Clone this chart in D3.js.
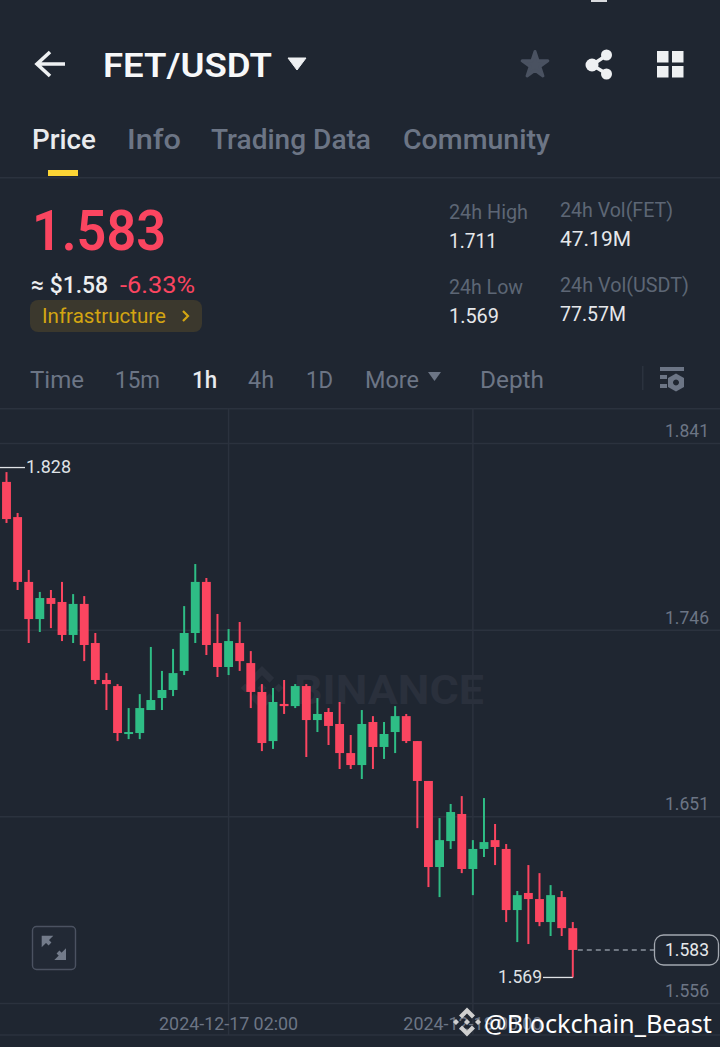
<!DOCTYPE html>
<html><head><meta charset="utf-8">
<script src="https://cdn.jsdelivr.net/npm/d3@7/dist/d3.min.js"></script>
<style>html,body{margin:0;padding:0;background:#1f2631;overflow:hidden}svg{display:block}text{font-family:Roboto,"Noto Sans",sans-serif}</style>
</head><body><svg id="c" width="720" height="1047"></svg>
<script>
const pair = "FET/USDT";
const firstCandle = "2024-12-16T06:00:00Z";
const opens = [1.8212,1.8033,1.7703,1.7514,1.7621,1.7601,1.7433,1.7591,1.7392,1.7204,1.7173,1.6929,1.6934,1.7051,1.7112,1.7153,1.7250,1.7443,1.7703,1.7392,1.7270,1.7392,1.7290,1.7143,1.6893,1.7082,1.7071,1.7173,1.7000,1.7041,1.6980,1.6832,1.6771,1.6990,1.6863,1.6939,1.7020,1.6893,1.6690,1.6252,1.6384,1.6522,1.6242,1.6344,1.6389,1.6344,1.6033,1.6120,1.6089,1.5972,1.6099,1.5941];
const highs = [1.8262,1.8054,1.7764,1.7652,1.7662,1.7703,1.7641,1.7631,1.7443,1.7239,1.7183,1.7061,1.7132,1.7372,1.7250,1.7362,1.7580,1.7794,1.7723,1.7540,1.7463,1.7499,1.7351,1.7183,1.7163,1.7204,1.7183,1.7183,1.7112,1.7061,1.7092,1.6924,1.7051,1.7020,1.6990,1.7071,1.7031,1.6893,1.6690,1.6501,1.6573,1.6613,1.6389,1.6603,1.6471,1.6369,1.6130,1.6262,1.6221,1.6160,1.6130,1.5972];
const lows = [1.8003,1.7662,1.7392,1.7448,1.7468,1.7402,1.7392,1.7300,1.7183,1.7051,1.6893,1.6903,1.6903,1.7051,1.7051,1.7122,1.7229,1.7392,1.7331,1.7219,1.7229,1.7250,1.7061,1.6842,1.6853,1.7031,1.7061,1.6812,1.6939,1.6873,1.6751,1.6751,1.6700,1.6751,1.6802,1.6832,1.6883,1.6450,1.6150,1.6099,1.6344,1.6221,1.6109,1.6303,1.6262,1.5972,1.5870,1.5860,1.5951,1.5901,1.5901,1.569];
const closes = [1.8023,1.7703,1.7514,1.7621,1.7591,1.7433,1.7591,1.7382,1.7204,1.7183,1.6934,1.6939,1.7061,1.7102,1.7153,1.7239,1.7443,1.7703,1.7382,1.7270,1.7402,1.7300,1.7143,1.6883,1.7092,1.7071,1.7173,1.7000,1.7031,1.6970,1.6832,1.6771,1.6980,1.6863,1.6929,1.7020,1.6893,1.6690,1.6252,1.6389,1.6532,1.6242,1.6344,1.6379,1.6354,1.6033,1.6109,1.6089,1.5972,1.6109,1.5941,1.583];
const priceTicks = [1.841,1.746,1.651,1.556];
const timeTicks = ["2024-12-17T02:00:00Z","2024-12-18T00:00:00Z"];
const lastPrice = 1.583, maxMark = 1.828, minMark = 1.569;

const BG="#1f2631", RED="#fb4560", GREEN="#2ebd85", GRID="#2b323e", GRAY="#6c7585", DIM="#5d6675", WHITE="#eef0f2";
const svg=d3.select("#c");
svg.append("rect").attr("width",720).attr("height",1047).attr("fill",BG);

function T(x,y,s,size,fill,weight,w,anchor){
  const t=svg.append("text").attr("x",x).attr("y",y).text(s).attr("font-size",size).attr("fill",fill).attr("font-weight",weight||400);
  if(w){t.attr("textLength",w).attr("lengthAdjust","spacingAndGlyphs");}
  if(anchor)t.attr("text-anchor",anchor);
  return t;
}
function logo(cx,cy,r,fill,edge){
  const g=svg.append("g").attr("transform",`translate(${cx},${cy}) scale(${r})`).attr("fill",fill);
  if(edge)g.attr("stroke",edge).attr("stroke-width",1/r);
  g.append("path").attr("d","M0,-1L.55,-.45L.34,-.24L0,-.58L-.34,-.24L-.55,-.45Z");
  g.append("path").attr("d","M0,1L.55,.45L.34,.24L0,.58L-.34,.24L-.55,.45Z");
  [[-.76,0],[.76,0],[0,0]].forEach(c=>g.append("path").attr("d",`M${c[0]-.21},${c[1]}L${c[0]},${c[1]-.21}L${c[0]+.21},${c[1]}L${c[0]},${c[1]+.21}Z`));
}
// header
svg.append("rect").attr("x",591).attr("y",0).attr("width",16).attr("height",2).attr("fill","#d8dadd");
svg.append("path").attr("d","M65 64H38M50 52L37 64L50 76").attr("fill","none").attr("stroke",WHITE).attr("stroke-width",3.6);
T(103,77,pair,34,"#f7f8f9",600,169);
svg.append("path").attr("d","M288 58H306L297 70Z").attr("fill",WHITE).attr("stroke",WHITE).attr("stroke-linejoin","round");
svg.append("path").attr("d",d3.symbol(d3.symbolStar,205)()).attr("transform","translate(535,65)").attr("fill","#4a5261").attr("stroke","#4a5261").attr("stroke-width",3).attr("stroke-linejoin","round");
svg.append("path").attr("d","M607 55L592 65L607 74").attr("fill","none").attr("stroke",WHITE).attr("stroke-width",3.5);
[[606.5,55,5.5],[592,65,6.5],[606.5,74,5.5]].forEach(c=>svg.append("circle").attr("cx",c[0]).attr("cy",c[1]).attr("r",c[2]).attr("fill",WHITE));
[[657,51],[672,51],[657,66],[672,66]].forEach(p=>svg.append("rect").attr("x",p[0]).attr("y",p[1]).attr("width",11.5).attr("height",11.5).attr("fill",WHITE));
// tabs
T(32,149,"Price",27,"#e9ebee",500,64);
T(127,149,"Info",27,GRAY,500,54);
T(211,149,"Trading Data",27,GRAY,500,160);
T(403,149,"Community",27,GRAY,500,147);
svg.append("rect").attr("x",48).attr("y",170).attr("width",30).attr("height",6).attr("fill","#fcd535");
svg.append("rect").attr("x",0).attr("y",177).attr("width",720).attr("height",1.5).attr("fill",GRID);
// price block
T(32,250,"1.583",56,RED,600,134);
T(31,293,"≈ $1.58",24,"#eceef0",500,77);
T(120,293,"-6.33%",23,RED,400,75);
svg.append("rect").attr("x",30).attr("y",300).attr("width",172).attr("height",32).attr("rx",8).attr("fill","#3b382d");
T(42,323,"Infrastructure",21,"#d3a512",400,124);
svg.append("path").attr("d","M183 311L188 316L183 321").attr("fill","none").attr("stroke","#d3a512").attr("stroke-width",2.2);
T(449,219,"24h High",20,DIM,400,79);
T(449,248,"1.711",20,"#e6e8eb",400,48);
T(560,217,"24h Vol(FET)",20,DIM,400,113);
T(560,246,"47.19M",20,"#e6e8eb",400,71);
T(449,294,"24h Low",20,DIM,400,74);
T(449,323,"1.569",20,"#e6e8eb",400,50);
T(560,292,"24h Vol(USDT)",20,DIM,400,129);
T(560,321,"77.57M",20,"#e6e8eb",400,66);
// interval row
[["Time",30,54],["15m",115,45],["4h",248,26],["1D",306,27],["More",365,54],["Depth",480,64]].forEach(d=>T(d[1],388,d[0],24,GRAY,400,d[2]));
T(192,388,"1h",24,"#e9ebee",500,25);
svg.append("path").attr("d","M428 372H441L434.5 381Z").attr("fill",GRAY);
svg.append("rect").attr("x",642).attr("y",366).attr("width",1.5).attr("height",24).attr("fill",GRID);
svg.append("g").attr("fill",GRAY).call(g=>{
  g.append("rect").attr("x",660).attr("y",367).attr("width",24).attr("height",4);
  g.append("rect").attr("x",660).attr("y",375).attr("width",7).attr("height",4);
  g.append("rect").attr("x",660).attr("y",384).attr("width",7).attr("height",4);
  g.append("path").attr("fill-rule","evenodd").attr("d","M676 373.5L684 378V387L676 391.5L668 387V378ZM676 379.5a3 3 0 1 0 .01 0Z");
});
// chart frame
svg.append("rect").attr("x",0).attr("y",408).attr("width",720).attr("height",1.5).attr("fill",GRID);

const y=d3.scaleLinear().domain([1.841,1.556]).range([443,1003]);
const t0=new Date(firstCandle);
const times=opens.map((_,i)=>d3.utcHour.offset(t0,i));
const x=d3.scaleUtc().domain([times[0],times[times.length-1]]).range([6.5,572.8]);
const step=x(times[1])-x(times[0]);
const bodyW=step*0.8;

// y axis + grid
const ya=svg.append("g").attr("class","y").call(d3.axisRight(y).tickValues(priceTicks).tickSize(720).tickFormat(d3.format(".3f")));
ya.select(".domain").remove();
ya.selectAll("line").attr("stroke",GRID).attr("stroke-width",1.5);
ya.selectAll("text").attr("x",665).attr("dy",0).attr("y",-6.5).attr("font-size",18).attr("fill",GRAY).attr("textLength",44).attr("lengthAdjust","spacingAndGlyphs");
// x axis + grid
const xa=svg.append("g").attr("transform","translate(-0.5,1035)").call(d3.axisBottom(x).tickValues(timeTicks.map(d=>new Date(d))).tickSize(-627).tickFormat(d3.utcFormat("%Y-%m-%d %H:%M")));
xa.select(".domain").attr("stroke",GRID).attr("stroke-width",1.5).attr("d","M0,0H721");
xa.selectAll("line").attr("stroke",GRID).attr("stroke-width",1.5);
xa.selectAll("text").attr("y",-5).attr("dy",0).attr("font-size",17.5).attr("fill",GRAY).attr("text-anchor","middle").attr("textLength",139).attr("lengthAdjust","spacingAndGlyphs");

// chart watermark
logo(262,688,22,"#2a303c");
T(294,704,"BINANCE",41,"#2a303c",700,190);

// candles
const idx=d3.range(opens.length);
const colour=i=>closes[i]>=opens[i]?GREEN:RED;
const g=svg.append("g");
g.selectAll("line.w").data(idx).join("line").attr("class","w")
  .attr("x1",i=>x(times[i])).attr("x2",i=>x(times[i]))
  .attr("y1",i=>y(highs[i])).attr("y2",i=>y(lows[i]))
  .attr("stroke",colour).attr("stroke-width",2);
g.selectAll("rect.b").data(idx).join("rect").attr("class","b")
  .attr("x",i=>x(times[i])-bodyW/2).attr("width",bodyW)
  .attr("y",i=>y(Math.max(opens[i],closes[i])))
  .attr("height",i=>Math.max(2,Math.abs(y(opens[i])-y(closes[i]))))
  .attr("fill",colour);

// max / min markers
const LBL="#dfe2e6";
svg.append("line").attr("x1",0).attr("x2",25).attr("y1",y(maxMark)-1).attr("y2",y(maxMark)-1).attr("stroke",LBL).attr("stroke-width",1.3);
T(26,y(maxMark)+4.5,d3.format(".3f")(maxMark),18,LBL,400,45);
const last=times[times.length-1];
svg.append("line").attr("x1",543).attr("x2",x(last)).attr("y1",y(minMark)).attr("y2",y(minMark)).attr("stroke",LBL).attr("stroke-width",1.3);
T(498,y(minMark)+6,d3.format(".3f")(minMark),18,LBL,400,44);
// last price
svg.append("line").attr("x1",x(last)+5).attr("x2",654).attr("y1",y(lastPrice)).attr("y2",y(lastPrice)).attr("stroke","#8b929d").attr("stroke-width",1.5).attr("stroke-dasharray","5 4");
svg.append("rect").attr("x",654.5).attr("y",935).attr("width",64).attr("height",30).attr("rx",9).attr("fill",BG).attr("stroke","#a3a8b0").attr("stroke-width",1.3);
T(665,y(lastPrice)+6.5,d3.format(".3f")(lastPrice),18,"#e6e8eb",400,44);

// expand button
svg.append("rect").attr("x",32.5).attr("y",926.5).attr("width",43).attr("height",43).attr("rx",4).attr("fill","#222935").attr("stroke","#4b5261").attr("stroke-width",1.4);
svg.append("path").attr("d","M41.7 935.7H53.3L41.7 947.3ZM66 960H54.3L66 948.3Z").attr("fill","#737b8a");
svg.append("path").attr("d","M46 940L50 944M58 952L62 956").attr("stroke","#737b8a").attr("stroke-width",4);

// attribution
logo(467,1022,14.5,"#cfcfcf");
T(484,1033,"@Blockchain_Beast",26,"#ffffff",400,228).style("font-family",'"Noto Sans",sans-serif');
</script></body></html>
